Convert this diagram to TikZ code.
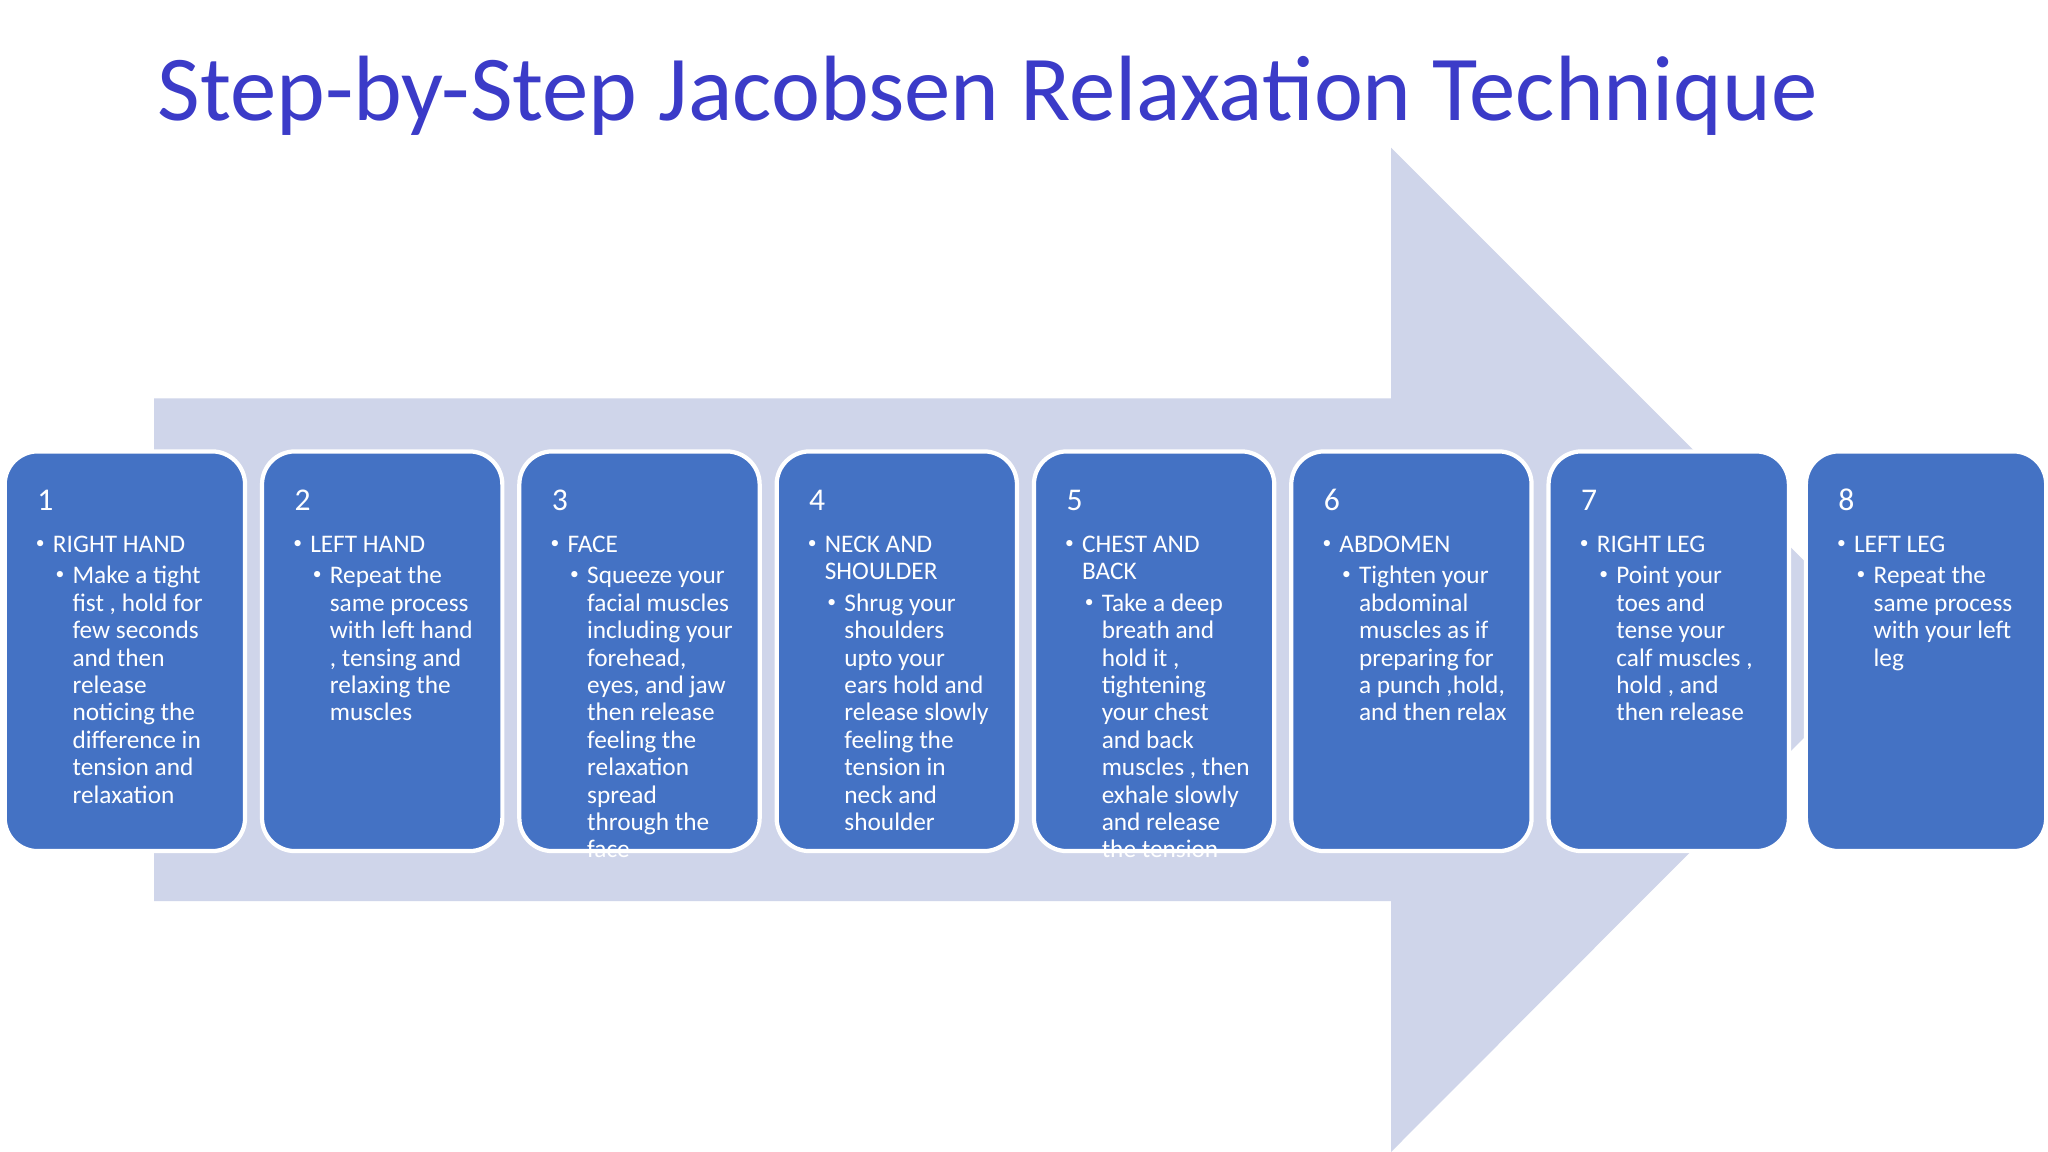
\documentclass[tikz,border=0pt]{standalone}
\usepackage{fontspec}
\setmainfont{Carlito}
\definecolor{arrowc}{HTML}{CFD5EA}
\definecolor{boxc}{HTML}{4472C4}
\definecolor{titlec}{HTML}{3B3BC8}
\newcommand\lns[1]{\parbox[t]{3cm}{\raggedright\fontsize{7.2}{7.8}\selectfont #1}}
\tikzset{
  card/.style={fill=boxc,draw=white,line width=1.2pt,rounded corners=0.33cm},
  txt/.style={text=white,inner sep=0pt,anchor=base west},
  num/.style={text=white,inner sep=0pt,anchor=base west,font=\fontsize{9}{10}\selectfont},
  bul/.style={text=white,inner sep=0pt,anchor=base west,font=\fontsize{5}{6}\selectfont}
}
\newcommand\stepcard[5]{% x, number, heading, heading lines, body
  \pgfmathsetmacro\bx{#1}
  \pgfmathsetmacro\by{423+21*(#4-1)+24}
  \node[card,minimum width=0.013061*184cm,minimum height=0.013061*306cm,anchor=north west] (c#2) at (\bx,344) {};
  \node[num] (n#2) at (\bx+26,391) {#2};
  \node[bul] (ba#2) at (\bx+25,420) {•};
  \node[txt] (h#2) at (\bx+38,423) {\lns{#3}};
  \node[bul] (bb#2) at (\bx+40,\by-3) {•};
  \node[txt] (t#2) at (\bx+53,\by) {\lns{#5}};
}
\begin{document}
\begin{tikzpicture}[x=0.013061cm,y=-0.013061cm]
\useasboundingbox (0,0) rectangle (1568,882);
\fill[white] (0,0) rectangle (1568,882);
\fill[arrowc] (118,305) -- (1065,305) -- (1065,113) -- (1449,497) -- (1065,882) -- (1065,690) -- (118,690) -- cycle;
\node[text=titlec,anchor=base west,inner sep=0pt,font=\fontsize{26.4}{32}\selectfont] (title) at (120,92) {Step-by-Step Jacobsen Relaxation Technique};
\stepcard{2}{1}{RIGHT HAND}{1}{Make a tight\\fist , hold for\\few seconds\\and then\\release\\noticing the\\difference in\\tension and\\relaxation}
\stepcard{199}{2}{LEFT HAND}{1}{Repeat the\\same process\\with left hand\\, tensing and\\relaxing the\\muscles}
\stepcard{396}{3}{FACE}{1}{Squeeze your\\facial muscles\\including your\\forehead,\\eyes, and jaw\\then release\\feeling the\\relaxation\\spread\\through the\\face}
\stepcard{593}{4}{NECK AND\\SHOULDER}{2}{Shrug your\\shoulders\\upto your\\ears hold and\\release slowly\\feeling the\\tension in\\neck and\\shoulder}
\stepcard{790}{5}{CHEST AND\\BACK}{2}{Take a deep\\breath and\\hold it ,\\tightening\\your chest\\and back\\muscles , then\\exhale slowly\\and release\\the tension}
\stepcard{987}{6}{ABDOMEN}{1}{Tighten your\\abdominal\\muscles as if\\preparing for\\a punch ,hold,\\and then relax}
\stepcard{1184}{7}{RIGHT LEG}{1}{Point your\\toes and\\tense your\\calf muscles ,\\hold , and\\then release}
\stepcard{1381}{8}{LEFT LEG}{1}{Repeat the\\same process\\with your left\\leg}
\end{tikzpicture}
\end{document}
